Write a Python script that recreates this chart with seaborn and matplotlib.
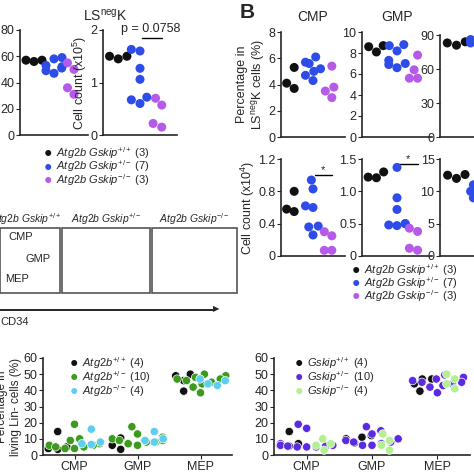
import matplotlib
matplotlib.use("Agg")
import matplotlib.pyplot as plt
import seaborn as sns
import pandas as pd
from matplotlib.patches import Rectangle

sns.set_style("ticks")
plt.rcParams['font.family'] = ['Liberation Sans', 'DejaVu Sans']
plt.rcParams['mathtext.fontset'] = 'custom'
plt.rcParams['mathtext.it'] = 'Liberation Sans:italic'
plt.rcParams['mathtext.rm'] = 'Liberation Sans'

W = 474
fig = plt.figure(figsize=(4.74, 4.74), dpi=100)

def ax_px(x0, y0, x1, y1):
    return fig.add_axes([x0 / W, 1 - y1 / W, (x1 - x0) / W, (y1 - y0) / W])

groups = ["WT", "HET", "KO"]
top_cols = ["#111111", "#2e4de8", "#b65ae8"]

lsk_pct = [[57, 56, 57], [59, 58, 52, 51, 49, 47, 53], [55, 50, 36, 31]]
lsk_cnt = [[1.5, 1.45, 1.5], [1.6, 1.63, 1.27, 1.06, 0.72, 0.67, 0.6], [0.7, 0.57, 0.22, 0.15]]
cmp_pct = [[5.3, 4.1, 3.7], [6.1, 5.6, 5.7, 5.2, 5.0, 4.7, 4.3], [5.4, 3.8, 3.5, 3.0]]
gmp_pct = [[8.6, 8.7, 8.1], [8.8, 8.7, 8.2, 7.3, 7.0, 6.6, 6.9], [7.8, 6.4, 5.6, 5.6]]
mep_pct = [[83, 81, 84], [84, 82, 85, 83, 86, 84, 85], [86, 88, 87, 89]]
cmp_cnt = [[0.8, 0.58, 0.55], [0.94, 0.83, 0.6, 0.62, 0.37, 0.36, 0.26], [0.3, 0.25, 0.07, 0.07]]
gmp_cnt = [[1.3, 1.22, 1.21], [1.37, 0.9, 0.72, 0.5, 0.48, 0.47, 0.5], [0.43, 0.38, 0.12, 0.09]]
mep_cnt = [[12, 12.5, 12.6], [12, 11, 10, 9, 8, 9, 10], [6, 5, 3, 2]]

cats = ["CMP", "GMP", "MEP"]
atg_vals = {
    "WT": [[14.5, 5, 4, 3.5], [10.5, 7, 6, 3.5], [50, 49, 46, 39.5]],
    "HET": [[19, 10, 9, 7, 6, 6, 5, 5, 4, 4], [17.5, 13, 11, 10, 9, 9, 8, 8, 7, 6],
            [50, 49, 48, 47, 47, 46, 45, 44, 42, 38.5]],
    "KO": [[16, 8, 7, 6.5], [14.5, 10, 9, 8], [47, 46, 44, 43]],
}
gsk_vals = {
    "WT": [[14.5, 7, 6, 5.5], [12, 11, 10, 7.5], [47, 47, 44, 39.5]],
    "HET": [[19, 16.5, 7, 6, 6, 5.5, 5.5, 5, 5, 5], [17.5, 15, 13, 10, 9, 8, 8, 7, 6, 6],
            [49.5, 48, 47, 46, 45, 45, 44, 43, 42, 38.5]],
    "KO": [[10, 7, 6, 3], [13, 9, 6, 3], [50, 47, 44, 41]],
}
atg_cols = ["#111111", "#3c9a1c", "#5ccff0"]
gsk_cols = ["#111111", "#5a2be0", "#b4ef90"]

def small(ax, vals, ylim, yticks, ylabel=None):
    df = pd.DataFrame([(g, v) for g, vs in zip(groups, vals) for v in vs], columns=["g", "v"])
    sns.swarmplot(data=df, x="g", y="v", hue="g", palette=top_cols, order=groups,
                  size=6.5, ax=ax, legend=False, warn_thresh=1)
    ax.set_ylim(*ylim)
    ax.set_yticks(yticks)
    ax.set_xticks([])
    ax.set_xlabel("")
    ax.set_ylabel(ylabel if ylabel else "", fontsize=9, labelpad=1)
    ax.set_xlim(-0.7, 2.7)
    sns.despine(ax=ax)
    ax.tick_params(labelsize=9, length=3, pad=1)
    for s in ax.spines.values():
        s.set_linewidth(1.2)

a1 = ax_px(20, 30, 88, 135)
small(a1, lsk_pct, (0, 80), [0, 20, 40, 60, 80])
a2 = ax_px(103, 30, 177, 135)
small(a2, lsk_cnt, (0, 2), [0, 1, 2], "Cell count (x10$^5$)")
a2.plot([1.1, 2.0], [1.85, 1.85], color="k", lw=1)
a2.text(1.5, 1.9, "p = 0.0758", ha="center", va="bottom", fontsize=9)
fig.text(105 / W, 1 - 16 / W, "LS$^{\\rm neg}$K", ha="center", va="center", fontsize=10)

def legend(x, y, labels, cols, dy=13.5, fs=8):
    for i, (l, c) in enumerate(zip(labels, cols)):
        fig.text(x / W, 1 - (y + i * dy) / W, "●", color=c, fontsize=10, va="center", ha="left")
        fig.text((x + 12) / W, 1 - (y + i * dy) / W, l, fontsize=fs, va="center", ha="left")

lab_top = [r"$\it{Atg2b\ Gskip}^{+/+}$ (3)", r"$\it{Atg2b\ Gskip}^{+/-}$ (7)", r"$\it{Atg2b\ Gskip}^{-/-}$ (3)"]
legend(44, 153, lab_top, top_cols)

boxes = [(0, 60), (62, 150), (152, 237)]
titles = [r"$\it{tg2b\ Gskip}^{+/+}$", r"$\it{Atg2b\ Gskip}^{+/-}$", r"$\it{Atg2b\ Gskip}^{-/-}$"]
for (x0, x1), t in zip(boxes, titles):
    fig.patches.append(Rectangle((x0 / W, 1 - 293 / W), (x1 - x0) / W, 65 / W,
                                 transform=fig.transFigure, fill=False, ec="#555555", lw=1.2))
    fig.text(((x0 + x1) / 2) / W, 1 - 219 / W, t, ha="center", va="center", fontsize=7.5)
fig.text(8 / W, 1 - 240 / W, "CMP", fontsize=8)
fig.text(25 / W, 1 - 262 / W, "GMP", fontsize=8)
fig.text(5 / W, 1 - 282 / W, "MEP", fontsize=8)
fig.add_artist(plt.Line2D([0, 215 / W], [1 - 310 / W] * 2, color="k", lw=1.2, transform=fig.transFigure))
fig.text(213 / W, 1 - 310 / W, "▶", fontsize=6, va="center", ha="left")
fig.text(0, 1 - 322 / W, "CD34", fontsize=8, va="center")

fig.text(240 / W, 1 - 12 / W, "B", fontsize=15, fontweight="bold", va="center")
b1 = ax_px(281, 32, 345, 137)
small(b1, cmp_pct, (0, 8), [0, 2, 4, 6, 8], "Percentage in\nLS$^{\\rm neg}$K cells (%)")
b1.set_title("CMP", fontsize=10, pad=8)
b2 = ax_px(362, 32, 432, 137)
small(b2, gmp_pct, (0, 10), [0, 2, 4, 6, 8, 10])
b2.set_title("GMP", fontsize=10, pad=8)
b3 = ax_px(440, 35, 520, 137)
small(b3, mep_pct, (0, 90), [0, 30, 60, 90])
c1 = ax_px(281, 159, 345, 256)
small(c1, cmp_cnt, (0, 1.2), [0, 0.4, 0.8, 1.2], "Cell count (x10$^4$)")
c1.set_yticklabels(["0", "0.4", "0.8", "1.2"])
c1.plot([1.1, 2.0], [1.0, 1.0], color="k", lw=1)
c1.text(1.55, 1.0, "*", ha="center", va="bottom", fontsize=8)
c2 = ax_px(362, 159, 432, 256)
small(c2, gmp_cnt, (0, 1.5), [0, 0.5, 1.0, 1.5])
c2.set_yticklabels(["0", "0.5", "1.0", "1.5"])
c2.plot([1.1, 2.0], [1.42, 1.42], color="k", lw=1)
c2.text(1.55, 1.42, "*", ha="center", va="bottom", fontsize=8)
c3 = ax_px(440, 159, 520, 256)
small(c3, mep_cnt, (0, 15), [0, 5, 10, 15])
legend(352, 270, lab_top, top_cols, dy=13)

def bottom(ax, vals, cols):
    rows = [(c, g, v) for g in groups for c, vs in zip(cats, vals[g]) for v in vs]
    df = pd.DataFrame(rows, columns=["c", "g", "v"])
    sns.swarmplot(data=df, x="c", y="v", hue="g", hue_order=groups, order=cats,
                  palette=cols, dodge=True, size=6, edgecolor="white", linewidth=0.5,
                  ax=ax, legend=False, warn_thresh=1)
    ax.set_ylim(0, 60)
    ax.set_yticks(range(0, 61, 10))
    ax.set_xlabel("")
    ax.set_ylabel("")
    sns.despine(ax=ax)
    ax.tick_params(labelsize=9, length=3, pad=1)
    for s in ax.spines.values():
        s.set_linewidth(1.2)

d1 = ax_px(43, 358, 232, 455)
bottom(d1, atg_vals, atg_cols)
d1.set_ylabel("Percentage in\nliving Lin- cells (%)", fontsize=8.5, labelpad=1)
legend(70, 363, [r"$\it{Atg2b}^{+/+}$ (4)", r"$\it{Atg2b}^{+/-}$ (10)", r"$\it{Atg2b}^{-/-}$ (4)"],
       atg_cols, dy=14)
d2 = ax_px(274, 358, 470, 455)
bottom(d2, gsk_vals, gsk_cols)
legend(295, 363, [r"$\it{Gskip}^{+/+}$ (4)", r"$\it{Gskip}^{+/-}$ (10)", r"$\it{Gskip}^{-/-}$ (4)"],
       gsk_cols, dy=14)

fig.savefig("out.png", dpi=100)
